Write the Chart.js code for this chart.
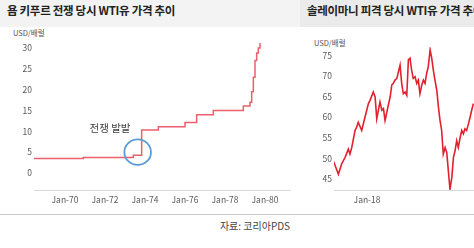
<!DOCTYPE html>
<html>
<head>
<meta charset="utf-8">
<script src="https://cdn.jsdelivr.net/npm/chart.js@4"></script>
<style>
  body { margin: 0; width: 474px; height: 248px; overflow: hidden; position: relative; background: #fff;
         font-family: "Noto Sans CJK KR", "Noto Sans", sans-serif; }
  .bar { position: absolute; top: 0; height: 27px; overflow: hidden; white-space: nowrap;
         font-weight: bold; font-size: 11.5px; color: #222; line-height: 21px; letter-spacing: -0.3px; }
  .unit { position: absolute; font-size: 7.5px; color: #555; line-height: 10px; }
  .box { position: absolute; top: 27px; height: 187px; }
  #rule { position: absolute; left: 0; top: 214px; width: 474px; height: 1px; background: #c8c8c8; }
  #src { position: absolute; left: 0; width: 474px; top: 218px; text-align: center; padding-left: 36px;
         box-sizing: border-box; font-size: 10px; color: #444; }
</style>
</head>
<body>
<div class="bar" style="left:0;width:300px;background:#f3f3f3;padding-left:7px;box-sizing:border-box;">욤 키푸르 전쟁 당시 WTI유 가격 추이</div>
<div class="bar" style="left:300px;width:174px;background:#ebebeb;padding-left:7px;box-sizing:border-box;">솔레이마니 피격 당시 WTI유 가격 추이</div>
<div class="unit" style="left:13px;top:28px;">USD/배럴</div>
<div class="unit" style="left:314px;top:38px;">USD/배럴</div>
<div class="box" style="left:0;width:300px;"><canvas id="yomKippur"></canvas></div>
<div class="box" style="left:300px;width:174px;"><canvas id="soleimani"></canvas></div>
<div id="rule"></div>
<div id="src">자료: 코리아PDS</div>

<script>
// 1968-1979 WTI posted price, monthly step changes (USD/bbl)
const yomMonths = ['1968-06', '1970-12', '1973-06', '1973-11', '1974-09', '1976-01', '1976-08', '1977-06',
                   '1978-12', '1979-04', '1979-05', '1979-06', '1979-07', '1979-08', '1979-09', '1979-10'];
const yomWti    = [3.5, 3.75, 4.25, 10.3, 11.1, 12.1, 14.0, 15.0,
                   16.1, 17.0, 19.5, 23.0, 27.0, 28.8, 30.0, 31.2];
const yomTickMonths = ['1970-01', '1972-01', '1974-01', '1976-01', '1978-01', '1980-01'];
const yomTickLabels = ['Jan-70', 'Jan-72', 'Jan-74', 'Jan-76', 'Jan-78', 'Jan-80'];
const yomYTicks = [0, 5, 10, 15, 20, 25, 30];
const noteText = '전쟁 발발';

// 2017-2019 WTI spot
const solDates = ['2017-08-08', '2017-08-30', '2017-09-13', '2017-09-28', '2017-10-12', '2017-10-19', '2017-10-27',
  '2017-11-10', '2017-11-17', '2017-11-24', '2017-12-09', '2017-12-23', '2018-01-07', '2018-01-14', '2018-01-28',
  '2018-02-05', '2018-02-12', '2018-02-26', '2018-03-06', '2018-03-13', '2018-03-20', '2018-04-03', '2018-04-11',
  '2018-04-18', '2018-04-25', '2018-05-02', '2018-05-10', '2018-05-17', '2018-05-24', '2018-05-31', '2018-06-07',
  '2018-06-15', '2018-06-22', '2018-06-29', '2018-07-06', '2018-07-13', '2018-07-20', '2018-07-28', '2018-08-04',
  '2018-08-11', '2018-08-18', '2018-08-26', '2018-09-02', '2018-09-09', '2018-09-16', '2018-09-23', '2018-10-01',
  '2018-10-08', '2018-10-15', '2018-10-22', '2018-10-30', '2018-11-06', '2018-11-13', '2018-11-20', '2018-11-27',
  '2018-12-05', '2018-12-12', '2018-12-19', '2018-12-26', '2019-01-03', '2019-01-10', '2019-01-17', '2019-01-24',
  '2019-01-31', '2019-02-08', '2019-02-15', '2019-02-22', '2019-03-01', '2019-03-08', '2019-03-16', '2019-03-23',
  '2019-03-30', '2019-04-06'];
const solWti = [49.5, 46.2, 48.7, 50.3, 52.3, 51.1, 52.7, 56.8, 57.6, 58.8, 56.8, 60.0, 63.3, 64.1, 66.1,
  64.9, 59.6, 63.7, 61.7, 62.1, 59.2, 62.9, 64.9, 67.8, 68.2, 69.0, 69.4, 71.0, 72.6, 68.2, 65.7,
  66.1, 65.3, 73.9, 74.3, 71.4, 69.4, 69.8, 68.2, 69.0, 65.7, 67.8, 69.0, 68.2, 70.6, 72.2, 76.3,
  74.3, 71.4, 69.0, 66.5, 62.5, 59.2, 56.8, 51.1, 52.7, 51.5, 47.0, 42.6, 45.4, 50.3, 51.9, 54.3,
  52.7, 55.1, 56.8, 56.0, 57.2, 56.8, 58.4, 60.0, 61.7, 63.3];
const solTickDates = ['2018-01-01'];
const solTickLabels = ['Jan-18'];
const solYTicks = [45, 50, 55, 60, 65, 70, 75];

// months since Jan 1970 / days since 1 Jan 2018
function ym(s) { const [y, m] = s.split('-').map(Number); return (y - 1970) * 12 + (m - 1); }
function day(s) {
  const [y, m, d] = s.split('-').map(Number);
  return (Date.UTC(y, m - 1, d) - Date.UTC(2018, 0, 1)) / 864e5;
}

const tickFont = { family: '"Noto Sans CJK KR", "Noto Sans", sans-serif', size: 8.5 };
const tickColor = '#595959';

function axes(xMin, xMax, xTicks, xLabels, yMin, yMax, yTicks, yWidth) {
  return {
    x: {
      type: 'linear', min: xMin, max: xMax,
      grid: { display: false, drawTicks: false },
      border: { display: true, color: '#d9d9d9', width: 1 },
      afterBuildTicks: s => { s.ticks = xTicks.map(v => ({ value: v })); },
      afterFit: s => { s.height = 24; },
      ticks: { autoSkip: false, maxRotation: 0, padding: 5, color: tickColor, font: tickFont,
               callback: (v, i) => xLabels[i] }
    },
    y: {
      min: yMin, max: yMax,
      grid: { display: false, drawTicks: false },
      border: { display: false },
      afterBuildTicks: s => { s.ticks = yTicks.map(v => ({ value: v })); },
      afterFit: s => { s.width = yWidth; },
      ticks: { padding: 2, color: tickColor, font: tickFont }
    }
  };
}

// circle + caption around the outbreak step
const outbreakNote = {
  id: 'outbreakNote',
  afterDatasetsDraw(chart) {
    const { ctx, scales: { x, y } } = chart;
    const cx = x.getPixelForValue(ym('1973-08')) + 1;
    const cy = y.getPixelForValue(5);
    ctx.save();
    ctx.strokeStyle = '#5b9bd5';
    ctx.lineWidth = 1.8;
    ctx.beginPath();
    ctx.ellipse(cx, cy, 13.3, 12.8, 0, 0, Math.PI * 2);
    ctx.stroke();
    ctx.fillStyle = '#404040';
    ctx.font = '10.5px "Noto Sans CJK KR", sans-serif';
    ctx.textAlign = 'center';
    ctx.textBaseline = 'middle';
    ctx.fillText(noteText, x.getPixelForValue(ym('1972-04')), y.getPixelForValue(10.7));
    ctx.restore();
  }
};

const common = {
  responsive: true, maintainAspectRatio: false, animation: false,
  plugins: { legend: { display: false }, tooltip: { enabled: false } },
  elements: { point: { radius: 0 } }
};

new Chart(document.getElementById('yomKippur'), {
  type: 'line',
  data: {
    datasets: [{
      data: yomMonths.map((m, i) => ({ x: ym(m), y: yomWti[i] })),
      borderColor: '#ec5f6c', borderWidth: 1.5, stepped: true, fill: false
    }]
  },
  options: {
    ...common,
    layout: { padding: { top: 13, right: 10, bottom: 0, left: 0 } },
    scales: axes(-18.6, 135, yomTickMonths.map(ym), yomTickLabels, -4.08, 31.92, yomYTicks, 34)
  },
  plugins: [outbreakNote]
});

new Chart(document.getElementById('soleimani'), {
  type: 'line',
  data: {
    datasets: [{
      data: solDates.map((d, i) => ({ x: day(d), y: solWti[i] })),
      borderColor: '#e3202e', borderWidth: 1.6, tension: 0, fill: false
    }]
  },
  options: {
    ...common,
    layout: { padding: { top: 20, right: 0, bottom: 0, left: 0 } },
    scales: axes(-143, 463, solTickDates.map(day), solTickLabels, 42.4, 77.0, solYTicks, 34)
  }
});
</script>
</body>
</html>
